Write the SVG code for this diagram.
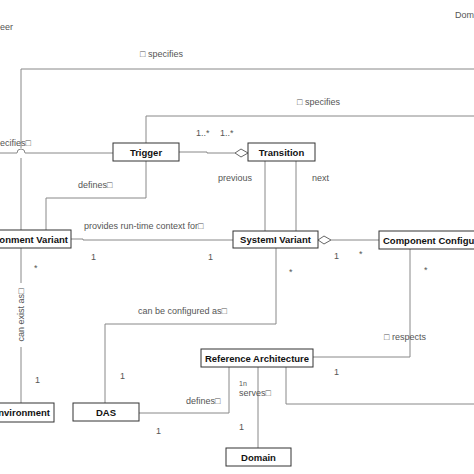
<svg xmlns="http://www.w3.org/2000/svg" width="474" height="474" viewBox="0 0 474 474">
<style>
.box{fill:#fff;stroke:#333;stroke-width:1}
.nm{font-family:"Liberation Sans",Arial,sans-serif;font-size:9.5px;font-weight:bold;fill:#111}
.lb{font-family:"Liberation Sans",Arial,sans-serif;font-size:9px;fill:#555}
.ln{fill:none;stroke:#888;stroke-width:1}
.dia{fill:#fff;stroke:#666;stroke-width:1}
</style>
<rect width="474" height="474" fill="#fff"/>
<g id="connectors">
<path class="ln" d="M21,69 H474"/>
<path class="ln" d="M21,69 V148 M21,158 V232 M21,248 V283 M21,347 V403"/>
<path class="ln" d="M146,143 V116 H474"/>
<path class="ln" d="M0,153 H17 A4,4 0 0 1 25,153 H113"/>
<path class="ln" d="M179,152 H207 V153 H235"/>
<path class="dia" d="M235,153 L241,149 L248,153 L241,157 Z"/>
<path class="ln" d="M265,161 V231 M296,161 V231"/>
<path class="ln" d="M146,161 V198 H46 V230"/>
<path class="ln" d="M71,239 H83 V240 H233"/>
<path class="ln" d="M331,240 H379"/>
<path class="dia" d="M318,240 L324,236 L331,240 L324,244 Z"/>
<path class="ln" d="M276,248 V324 H105 V403"/>
<path class="ln" d="M139,413 H229 V367"/>
<path class="ln" d="M313,357 H410 V249"/>
<path class="ln" d="M258,367 V448"/>
<path class="ln" d="M286,367 V404 H474"/>
</g>
<g id="labels">
<text class="lb" x="0" y="30">eer</text>
<text class="lb" x="455" y="18">Dom</text>
<text class="lb" x="140" y="57">□ specifies</text>
<text class="lb" x="297" y="105">□ specifies</text>
<text class="lb" x="31" y="146" text-anchor="end">specifies□</text>
<text class="lb" x="196" y="136">1..*</text>
<text class="lb" x="220" y="136">1..*</text>
<text class="lb" x="218" y="181">previous</text>
<text class="lb" x="312" y="181">next</text>
<text class="lb" x="78" y="188">defines□</text>
<text class="lb" x="84" y="229">provides run-time context for□</text>
<text class="lb" x="91" y="260">1</text>
<text class="lb" x="208" y="260">1</text>
<text class="lb" x="334" y="259">1</text>
<text class="lb" x="359" y="257">*</text>
<text class="lb" x="34" y="271">*</text>
<text class="lb" x="289" y="275">*</text>
<text class="lb" x="424" y="273">*</text>
<text class="lb" x="138" y="314">can be configured as□</text>
<text class="lb" transform="translate(24,315) rotate(-90)" text-anchor="middle">can exist as□</text>
<text class="lb" x="384" y="340">□ respects</text>
<text class="lb" x="35" y="383">1</text>
<text class="lb" x="120" y="379">1</text>
<text class="lb" x="334" y="375">1</text>
<text class="lb" x="239" y="386" style="font-size:7px">1n</text>
<text class="lb" x="239" y="396">serves□</text>
<text class="lb" x="186" y="404">defines□</text>
<text class="lb" x="239" y="430">1</text>
<text class="lb" x="156" y="434">1</text>
</g>
<g id="trigger"><rect class="box" x="113" y="143" width="66" height="18"/><text class="nm" x="146" y="155.5" text-anchor="middle">Trigger</text></g>
<g id="transition"><rect class="box" x="248" y="143" width="67" height="18"/><text class="nm" x="281.5" y="155.5" text-anchor="middle">Transition</text></g>
<g id="env-variant"><rect class="box" x="-60" y="230" width="131" height="18"/><text class="nm" x="68" y="242.5" text-anchor="end">Environment Variant</text></g>
<g id="system-variant"><rect class="box" x="233" y="231" width="85" height="17"/><text class="nm" x="275.5" y="243" text-anchor="middle">SystemI  Variant</text></g>
<g id="component-config"><rect class="box" x="379" y="231" width="120" height="18"/><text class="nm" x="383" y="243.5">Component Configuration</text></g>
<g id="reference-architecture"><rect class="box" x="201" y="349" width="112" height="18"/><text class="nm" x="257" y="361.5" text-anchor="middle">Reference Architecture</text></g>
<g id="environment"><rect class="box" x="-40" y="403" width="94" height="19"/><text class="nm" x="50" y="416" text-anchor="end">Environment</text></g>
<g id="das"><rect class="box" x="73" y="403" width="66" height="18"/><text class="nm" x="106" y="416" text-anchor="middle">DAS</text></g>
<g id="domain"><rect class="box" x="226" y="448" width="65" height="18"/><text class="nm" x="258.5" y="460.5" text-anchor="middle">Domain</text></g>
</svg>
